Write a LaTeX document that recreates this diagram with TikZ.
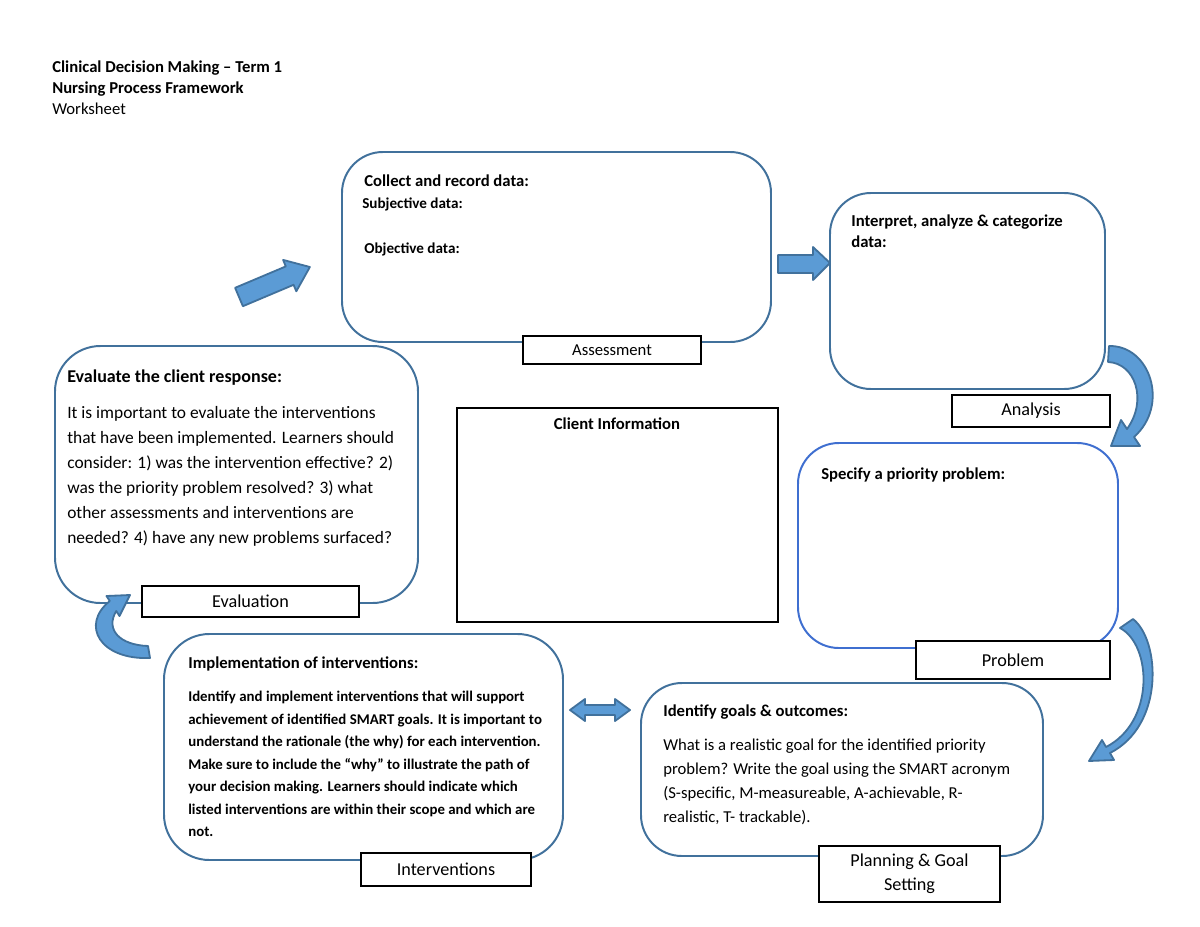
\documentclass[tikz,border=0pt]{standalone}
\usepackage{fontspec}
\setmainfont{Carlito}
\usetikzlibrary{fit}
\definecolor{boxblue}{HTML}{41719C}
\definecolor{probblue}{HTML}{3F6FD0}
\definecolor{arrowfill}{HTML}{5B9BD5}
\definecolor{arrowline}{HTML}{41719C}
\begin{document}
\begin{tikzpicture}[x=0.66pt,y=-0.66pt,
  stage/.style={draw=boxblue, line width=1.3pt, rounded corners=27pt, inner sep=0pt},
  labbox/.style={draw=black, fill=white, line width=1.1pt, inner sep=0pt, font=\fontsize{12}{15.8}\selectfont, align=center},
  txt/.style={anchor=north west, inner sep=0pt, align=left},
  blockarrow/.style={fill=arrowfill, draw=arrowline, line width=1.2pt, line join=round}]
\useasboundingbox (0,0) rectangle (1200,927);

% header
\node[txt, font=\fontsize{11}{13.9}\selectfont] (hdr) at (52,60)
  {\textbf{Clinical Decision Making – Term 1}\\\textbf{Nursing Process Framework}\\Worksheet};

% stage boxes
\node[stage, fit={(342,152) (771,342)}] (assess) {};
\node[stage, fit={(830,193) (1105,389)}] (analysis) {};
\node[stage, draw=probblue, fit={(798,443) (1118,648)}] (problem) {};
\node[draw=black, line width=1.1pt, inner sep=0pt, fit={(457,408) (778,622)}] (client) {};
\node[stage, rounded corners=30pt, fit={(55,346) (418,603)}] (evaluation) {};
\node[stage, rounded corners=30pt, fit={(164,634) (563,860)}] (implement) {};
\node[stage, fit={(641,683) (1043,856)}] (planning) {};

% label boxes
\node[labbox, font=\fontsize{11}{14}\selectfont, minimum width=117.5pt, minimum height=18.5pt] (assesslab) at (612,350) {Assessment};
\node[labbox, minimum width=104.3pt, minimum height=21.1pt] (analysislab) at (1031,411) {Analysis};
\node[labbox, minimum width=128pt, minimum height=25.1pt] (problemlab) at (1013,660) {Problem};
\node[labbox, minimum width=143.2pt, minimum height=20.5pt] (evallab) at (250.5,601.5) {Evaluation};
\node[labbox, minimum width=112.2pt, minimum height=21.8pt] (intervlab) at (446,869.5) {Interventions};
\node[labbox, minimum width=119.5pt, minimum height=37pt] (planlab) at (909.5,874) {Planning \& Goal\\Setting};

% texts
\node[txt, font=\bfseries\fontsize{11}{14}\selectfont] (assesst1) at (364,174) {Collect and record data:};
\node[txt, font=\bfseries\fontsize{10}{13}\selectfont] (assesst2) at (362,198) {Subjective data:};
\node[txt, font=\bfseries\fontsize{10}{13}\selectfont] (assesst3) at (364,243) {Objective data:};
\node[txt, font=\bfseries\fontsize{11}{14.5}\selectfont] (analysist) at (851,214) {Interpret, analyze \& categorize\\data:};
\node[txt, font=\bfseries\fontsize{11}{14}\selectfont] (problemt) at (821,467) {Specify a priority problem:};
\node[font=\bfseries\fontsize{11}{14}\selectfont, inner sep=0pt] (clientt) at (617,424) {Client Information};

\node[txt, font=\bfseries\fontsize{11.9}{14}\selectfont] (evtitle) at (67,370) {Evaluate the client response:};
\node[txt, font=\fontsize{11.5}{16.5}\selectfont] (evbody) at (67,406)
  {It is important to evaluate the interventions\\that have been implemented. Learners should\\consider: 1) was the intervention effective? 2)\\was the priority problem resolved? 3) what\\other assessments and interventions are\\needed? 4) have any new problems surfaced?};

\node[txt, font=\bfseries\fontsize{11}{14}\selectfont] (imtitle) at (188,656) {Implementation of interventions:};
\node[txt, font=\bfseries\fontsize{9.8}{14.85}\selectfont] (imbody) at (188,691)
  {Identify and implement interventions that will support\\achievement of identified SMART goals. It is important to\\understand the rationale (the why) for each intervention.\\Make sure to include the “why” to illustrate the path of\\your decision making. Learners should indicate which\\listed interventions are within their scope and which are\\not.};

\node[txt, font=\bfseries\fontsize{11}{14}\selectfont] (pltitle) at (663,704) {Identify goals \& outcomes:};
\node[txt, font=\fontsize{11}{15.8}\selectfont] (plbody) at (663,739)
  {What is a realistic goal for the identified priority\\problem? Write the goal using the SMART acronym\\(S-specific, M-measureable, A-achievable, R-\\realistic, T- trackable).};

% straight block arrows
\draw[blockarrow] (235.1,287.8) -- (285.8,266.4) -- (283.1,259.9) -- (309.9,267) -- (296.3,291.3) -- (293.6,284.8) -- (242.9,306.2) -- cycle;
\draw[blockarrow] (778,255) -- (813,255) -- (813,247) -- (830,263) -- (813,280) -- (813,273) -- (778,273) -- cycle;
\draw[blockarrow] (570,710) -- (585,699) -- (585,705) -- (615,705) -- (615,699) -- (630,710) -- (615,721) -- (615,715) -- (585,715) -- (585,721) -- cycle;

% curved arrows
\draw[blockarrow] (1109,346) .. controls (1150,345) and (1170,405) .. (1134,437)
  -- (1140,446) -- (1111,446) -- (1121,420) -- (1127,429)
  .. controls (1148,400) and (1135,363) .. (1108,362) -- cycle;
\draw[blockarrow] (1133,619) .. controls (1160,640) and (1165,725) .. (1110,753)
  -- (1114,760) -- (1089,761) -- (1102,740) -- (1106,747)
  .. controls (1155,722) and (1152,645) .. (1120,628) -- cycle;
\draw[blockarrow] (150,658) .. controls (100,660) and (80,625) .. (109.8,601)
  -- (106.5,596) -- (130,595) -- (119.5,616) -- (116.2,611)
  .. controls (105,630) and (120,645) .. (148,646) -- cycle;
\end{tikzpicture}
\end{document}
